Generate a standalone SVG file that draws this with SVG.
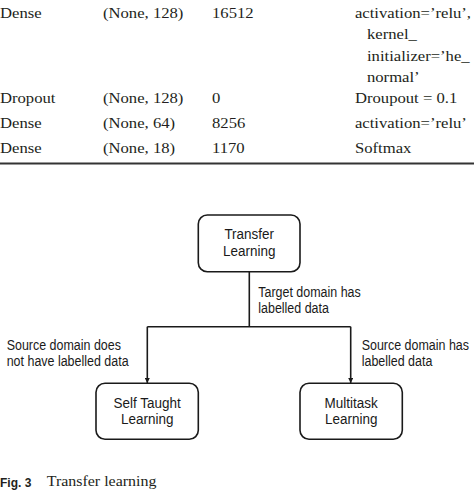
<svg xmlns="http://www.w3.org/2000/svg" width="474" height="495" viewBox="0 0 474 495">
<defs>
<style>
.tb{font-family:"Liberation Serif","Times New Roman",serif;font-size:15px;fill:#231f20}
.nd rect{fill:#fff;stroke:#1a1a1a;stroke-width:1.6}
.nt{font-family:"Liberation Sans",Arial,sans-serif;font-size:14.5px;fill:#1a1a1a;text-anchor:middle}
.lb{font-family:"Liberation Sans",Arial,sans-serif;font-size:14px;fill:#1a1a1a}
.cn{fill:none;stroke:#1a1a1a;stroke-width:1.6}
</style>
<marker id="ah" viewBox="0 0 10 10" refX="10" refY="5" markerWidth="5" markerHeight="5" orient="auto" markerUnits="userSpaceOnUse">
<path d="M0,0 L10,5 L0,10 z" fill="#1a1a1a"/>
</marker>
</defs>
<rect width="474" height="495" fill="#fff"/>
<g id="table">
<g transform="scale(1.11,1)" class="tb">
<text x="0" y="18">Dense</text>
<text x="92.8" y="18">(None, 128)</text>
<text x="191" y="18">16512</text>
<text x="319.8" y="18">activation=’relu’,</text>
<text x="330.6" y="39.5">kernel_</text>
<text x="330.6" y="61">initializer=’he_</text>
<text x="330.6" y="82.5">normal’</text>
<text x="0" y="103.5">Dropout</text>
<text x="92.8" y="103.5">(None, 128)</text>
<text x="191" y="103.5">0</text>
<text x="319.8" y="103.5">Droupout = 0.1</text>
<text x="0" y="128.5">Dense</text>
<text x="92.8" y="128.5">(None, 64)</text>
<text x="191" y="128.5">8256</text>
<text x="319.8" y="128.5">activation=’relu’</text>
<text x="0" y="153.5">Dense</text>
<text x="92.8" y="153.5">(None, 18)</text>
<text x="191" y="153.5">1170</text>
<text x="319.8" y="153.5">Softmax</text>
</g>
<line x1="0" y1="163.5" x2="474" y2="163.5" stroke="#333" stroke-width="2"/>
</g>
<g id="connectors">
<path class="cn" d="M249.3,272 V326.7"/>
<path class="cn" d="M147.3,326.7 H350.7"/>
<path class="cn" d="M147.3,326.7 V383" marker-end="url(#ah)"/>
<path class="cn" d="M350.7,326.7 V383" marker-end="url(#ah)"/>
<g transform="scale(0.89,1)">
<text class="lb" x="290.2" y="297">Target domain has</text>
<text class="lb" x="290.2" y="313">labelled data</text>
<text class="lb" x="7.5" y="350.3">Source domain does</text>
<text class="lb" x="7.5" y="366.3">not have labelled data</text>
<text class="lb" x="406.4" y="350.3">Source domain has</text>
<text class="lb" x="406.4" y="366.3">labelled data</text>
</g>
</g>
<g id="transfer" class="nd">
<rect x="198.3" y="215" width="101.7" height="56.7" rx="9"/>
<text class="nt" transform="scale(0.93,1)" x="268" y="239.5">Transfer</text>
<text class="nt" transform="scale(0.93,1)" x="268" y="256">Learning</text>
</g>
<g id="selftaught" class="nd">
<rect x="96" y="383.3" width="102.3" height="56" rx="9"/>
<text class="nt" transform="scale(0.93,1)" x="158.3" y="408.3">Self Taught</text>
<text class="nt" transform="scale(0.93,1)" x="158.3" y="424.5">Learning</text>
</g>
<g id="multitask" class="nd">
<rect x="300" y="383.3" width="102.3" height="56" rx="9"/>
<text class="nt" transform="scale(0.93,1)" x="377.6" y="408.3">Multitask</text>
<text class="nt" transform="scale(0.93,1)" x="377.6" y="424.5">Learning</text>
</g>
<g id="caption">
<text x="0" y="486.5" font-family="'Liberation Sans',Arial,sans-serif" font-size="12" font-weight="bold" fill="#231f20">Fig. 3</text>
<text transform="scale(1.1,1)" x="42.5" y="486.5" font-family="'Liberation Serif','Times New Roman',serif" font-size="14.5" fill="#231f20">Transfer learning</text>
</g>
</svg>
